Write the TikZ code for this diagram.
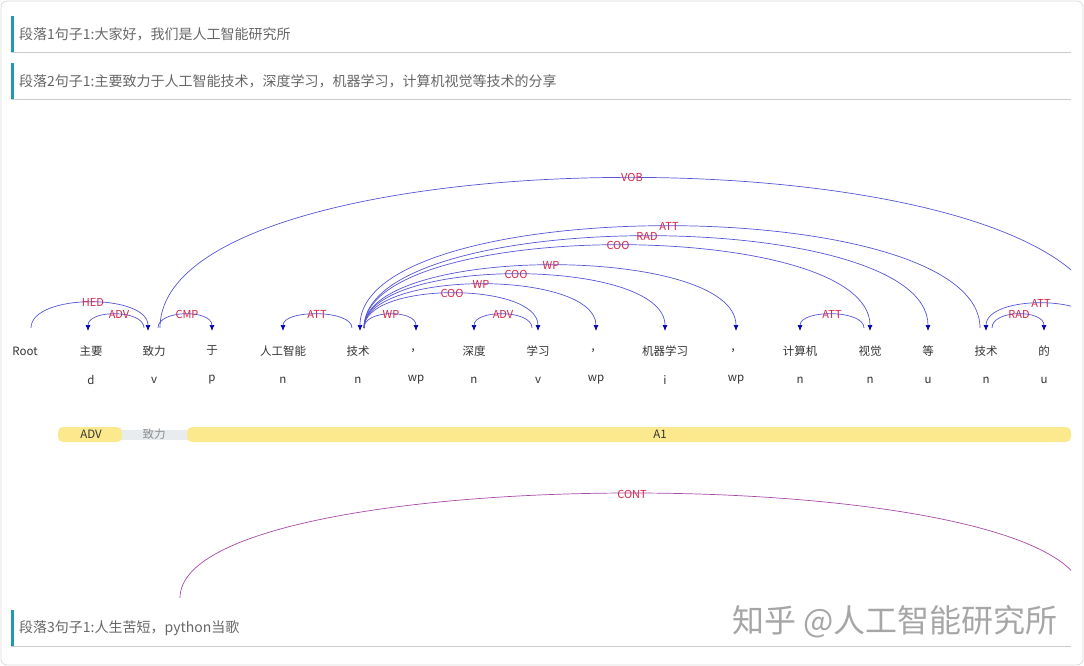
\documentclass[tikz,border=0pt]{standalone}
\usepackage{fontspec}
\setmainfont{Noto Sans CJK SC}
\usetikzlibrary{arrows.meta}
\definecolor{arcc}{HTML}{5555D5}
\definecolor{lblc}{HTML}{D8254A}
\definecolor{txtc}{HTML}{333333}
\definecolor{hdrc}{HTML}{666666}
\definecolor{tealc}{HTML}{1E9BB0}
\definecolor{barY}{HTML}{FCE98E}
\definecolor{barG}{HTML}{E8ECEF}
\definecolor{contc}{HTML}{A64AA6}
\tikzset{
 arcline/.style={draw=arcc, line width=0.7pt},
 arr/.style={-{Latex[length=6pt,width=5pt,color=blue!70!black]}},
 lbl/.style={text=lblc, font=\fontsize{11}{11}\selectfont, inner sep=0pt},
 word/.style={text=txtc, font=\fontsize{11.5}{12}\selectfont, inner sep=0pt},
 postag/.style={text=txtc, font=\fontsize{11.5}{12}\selectfont, inner sep=0pt},
 hdr/.style={text=hdrc, font=\fontsize{14}{14}\selectfont, anchor=west, inner sep=0pt},
}
\newcommand\deparc[6]{%
 \pgfmathsetmacro\cy{(#3-82)/0.75}%
 \draw[arcline,#6] (#1,328) .. controls (#1,\cy) and (#2,\cy) .. (#2,331);%
 \node[lbl] at (#5,#3) {#4};}
\begin{document}
\begin{tikzpicture}[x=1pt,y=-1pt]
\useasboundingbox (0,0) rectangle (1084,666);
\draw[rounded corners=6pt, draw=black!15, line width=0.8pt] (1,1) rectangle (1083,665);
% headers
\foreach \y/\t [count=\i] in {16/{段落1句子1:大家好，我们是人工智能研究所},63/{段落2句子1:主要致力于人工智能技术，深度学习，机器学习，计算机视觉等技术的分享},610/{段落3句子1:人生苦短，python当歌}}{
 \fill[tealc] (11,\y) rectangle (14,\y+36);
 \draw[black!20, line width=0.8pt] (11,\y+36) -- (1071,\y+36);
 \node[hdr] (h\i) at (19,\y+18) {\t};
}
% words
\foreach \x/\w/\p [count=\i] in {25/Root/,91/主要/d,154/致力/v,212/于/p,283/人工智能/n,358/技术/n,416/，/wp,474/深度/n,538/学习/v,596/，/wp,665/机器学习/i,736/，/wp,800/计算机/n,870/视觉/n,928/等/u,986/技术/n,1044/的/u}{
 \node[word] (w\i) at (\x,351) {\w};
 \node[postag] (p\i) at (\x,380) {\p};
}
% arcs
\begin{scope}
\clip (0,100) rectangle (1071,400);
\deparc{31}{148}{302}{HED}{93}{arr}
\deparc{144}{88}{314}{ADV}{119}{arr}
\deparc{158}{212}{314}{CMP}{187}{arr}
\deparc{160}{1104}{177}{VOB}{632}{}
\deparc{352}{283}{314}{ATT}{317}{arr}
\deparc{364}{416}{314}{WP}{391}{arr}
\deparc{364}{538}{293}{COO}{452}{arr}
\deparc{364}{596}{284}{WP}{481}{arr}
\deparc{364}{665}{274}{COO}{516}{arr}
\deparc{364}{736}{265}{WP}{551}{arr}
\deparc{532}{474}{314}{ADV}{503}{arr}
\deparc{364}{870}{245}{COO}{618}{arr}
\deparc{364}{928}{236}{RAD}{647}{arr}
\deparc{980}{360}{226}{ATT}{669}{arr}
\deparc{864}{800}{314}{ATT}{832}{arr}
\deparc{992}{1044}{314}{RAD}{1019}{arr}
\deparc{1098}{986}{303}{ATT}{1041}{arr}
\end{scope}
% SRL bar
\fill[barG] (110,430) rectangle (200,440);
\fill[barY, rounded corners=5pt] (58,427) rectangle (122,442);
\node[word, text=black!80] (adv) at (91,434.5) {ADV};
\node[word, text=black!45] (zl) at (154,434.5) {致力};
\fill[barY, rounded corners=5pt] (187,427) rectangle (1071,442);
\node[word, text=black!80] (a1) at (660,434.5) {A1};
% CONT
\begin{scope}
\clip (0,400) rectangle (1071,606);
\draw[contc, line width=0.7pt] (180,598) .. controls (180,458) and (1084,458) .. (1084,598);
\end{scope}
\node[lbl] (cont) at (632,494) {CONT};
% watermark
\node[text=black!35, font=\fontsize{32}{32}\selectfont, inner sep=0pt] (wm) at (895,622) {知乎 @人工智能研究所};
\end{tikzpicture}
\end{document}
